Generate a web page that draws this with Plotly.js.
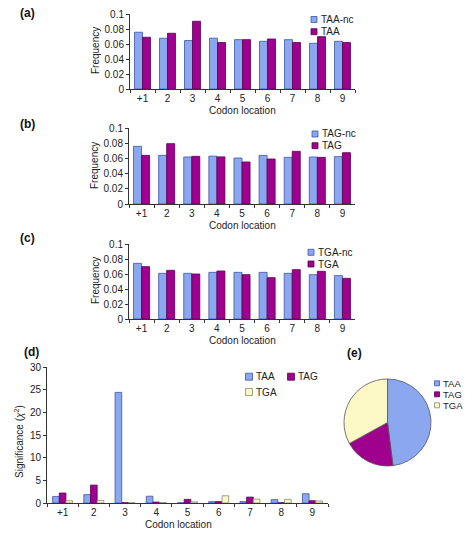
<!DOCTYPE html>
<html>
<head>
<meta charset="utf-8">
<script src="https://cdn.plot.ly/plotly-3.0.1.min.js"></script>
<style>
body{margin:0;background:#fff}
#chart{width:474px;height:540px}
</style>
</head>
<body>
<div id="chart"></div>
<script>
// codon positions after the stop codon
var locations = ['+1', '2', '3', '4', '5', '6', '7', '8', '9'];

// (a) TAA
var taaNc = [0.0757, 0.0677, 0.0646, 0.0678, 0.0658, 0.0636, 0.0658, 0.0610, 0.0636];
var taa   = [0.0690, 0.0743, 0.0903, 0.0620, 0.0658, 0.0667, 0.0620, 0.0698, 0.0620];

// (b) TAG
var tagNc = [0.0759, 0.0640, 0.0618, 0.0630, 0.0605, 0.0640, 0.0614, 0.0618, 0.0623];
var tag   = [0.0640, 0.0794, 0.0627, 0.0620, 0.0553, 0.0592, 0.0693, 0.0614, 0.0675];

// (c) TGA
var tgaNc = [0.0742, 0.0609, 0.0609, 0.0622, 0.0622, 0.0622, 0.0609, 0.0591, 0.0578];
var tga   = [0.0698, 0.0649, 0.0600, 0.0640, 0.0591, 0.0551, 0.0658, 0.0636, 0.0542];

// (d) chi-square significance
var chiTAA = [1.45, 1.85, 24.4, 1.50, 0.05, 0.30, 0.30, 0.75, 2.05];
var chiTAG = [2.20, 3.95, 0.05, 0.20, 0.80, 0.30, 1.30, 0.05, 0.50];
var chiTGA = [0.50, 0.55, 0.05, 0.10, 0.25, 1.60, 0.85, 0.80, 0.45];

// (e) share
var pieLabels = ['TAA', 'TAG', 'TGA'];
var pieValues = [48, 19, 33];

var W = 474, H = 540;
var blue = '#8ba7f0', blueLine = '#3c56a8';
var purple = '#a0008e', purpleLine = '#5a0050';
var yellow = '#fcf9c6', yellowLine = '#8a8a70';

function px(x) { return x / W; }
function py(y) { return 1 - y / H; }

function bar(name, vals, n, color, line) {
  return {
    type: 'bar', name: name, x: locations, y: vals,
    xaxis: 'x' + (n == 1 ? '' : n), yaxis: 'y' + (n == 1 ? '' : n),
    marker: {color: color, line: {color: line, width: 0.8}},
    showlegend: false
  };
}

var data = [
  bar('TAA-nc', taaNc, 1, blue, blueLine),
  bar('TAA', taa, 1, purple, purpleLine),
  bar('TAG-nc', tagNc, 2, blue, blueLine),
  bar('TAG', tag, 2, purple, purpleLine),
  bar('TGA-nc', tgaNc, 3, blue, blueLine),
  bar('TGA', tga, 3, purple, purpleLine),
  bar('TAA', chiTAA, 4, blue, blueLine),
  bar('TAG', chiTAG, 4, purple, purpleLine),
  bar('TGA', chiTGA, 4, yellow, yellowLine),
  {
    type: 'pie', labels: pieLabels, values: pieValues, sort: false,
    direction: 'clockwise', rotation: 0, textinfo: 'none',
    domain: {x: [px(344), px(431)], y: [py(466), py(379)]},
    marker: {colors: [blue, purple, yellow], line: {color: '#555', width: 0.8}},
    showlegend: false
  }
];

var fnt = {family: 'Liberation Sans, Arial, sans-serif', size: 10, color: '#222'};

function xax(domain, anchor) {
  return {
    type: 'category', domain: domain, anchor: anchor, range: [-0.5, 8.5],
    showline: true, linecolor: '#333', linewidth: 1,
    ticks: 'outside', tickson: 'boundaries', ticklen: 3, tickcolor: '#333',
    showgrid: false, zeroline: false, fixedrange: true
  };
}
function yax(domain, anchor, range, dtick) {
  return {
    domain: domain, anchor: anchor, range: range, dtick: dtick,
    showline: true, linecolor: '#333', linewidth: 1,
    ticks: 'outside', ticklen: 3, tickcolor: '#333',
    showgrid: false, zeroline: false, fixedrange: true
  };
}

var shapes = [];
var annotations = [];

function note(text, x, y, opts) {
  var a = {
    text: text, x: px(x), y: py(y), xref: 'paper', yref: 'paper',
    xanchor: 'center', yanchor: 'middle', showarrow: false, font: fnt
  };
  for (var k in opts) a[k] = opts[k];
  annotations.push(a);
}

// legend swatch + label
function key(label, x, y, size, fill, line, fs) {
  shapes.push({
    type: 'rect', xref: 'paper', yref: 'paper',
    x0: px(x - size / 2), x1: px(x + size / 2),
    y0: py(y + size / 2), y1: py(y - size / 2),
    fillcolor: fill, line: {color: line, width: 0.8}
  });
  note(label, x + size / 2 + 1.5, y, {xanchor: 'left', font: {family: fnt.family, size: fs || 10, color: '#222'}});
}

// panel letters
var bold = {family: fnt.family, size: 12, color: '#111'};
note('<b>(a)</b>', 18, 13, {xanchor: 'left', font: bold});
note('<b>(b)</b>', 18, 124, {xanchor: 'left', font: bold});
note('<b>(c)</b>', 18, 238, {xanchor: 'left', font: bold});
note('<b>(d)</b>', 22, 352, {xanchor: 'left', font: bold});
note('<b>(e)</b>', 345, 353, {xanchor: 'left', font: bold});

// axis titles
note('Frequency', 95, 51, {textangle: -90});
note('Frequency', 95, 166, {textangle: -90});
note('Frequency', 95, 281, {textangle: -90});
note('Codon location', 242, 110);
note('Codon location', 242, 225);
note('Codon location', 242, 340);
note('Significance (<i>χ</i><sup>2</sup>)', 19, 442, {textangle: -90});
note('Codon location', 178, 524);

// legends
key('TAA-nc', 314, 19.5, 6, blue, blueLine);
key('TAA', 314, 31.7, 6, purple, purpleLine);
key('TAG-nc', 315, 134, 6, blue, blueLine);
key('TAG', 315, 145.7, 6, purple, purpleLine);
key('TGA-nc', 311, 252.3, 6, blue, blueLine);
key('TGA', 311, 264, 6, purple, purpleLine);
key('TAA', 249, 376.7, 7, blue, blueLine);
key('TAG', 291, 376.7, 7, purple, purpleLine);
key('TGA', 249, 392, 7, yellow, yellowLine);
key('TAA', 437, 383.3, 5, blue, blueLine, 9.5);
key('TAG', 437, 394.3, 5, purple, purpleLine, 9.5);
key('TGA', 437, 405.3, 5, yellow, yellowLine, 9.5);

var layout = {
  width: W, height: H,
  margin: {l: 0, r: 0, t: 0, b: 0},
  paper_bgcolor: '#fff', plot_bgcolor: '#fff',
  font: fnt, showlegend: false,
  barmode: 'group', bargap: 0.36, bargroupgap: 0,
  xaxis: xax([px(130), px(355)], 'y'),
  yaxis: yax([py(89), py(14)], 'x', [0, 0.1], 0.02),
  xaxis2: xax([px(129), px(355)], 'y2'),
  yaxis2: yax([py(204), py(128)], 'x2', [0, 0.1], 0.02),
  xaxis3: xax([px(129), px(355)], 'y3'),
  yaxis3: yax([py(319), py(244)], 'x3', [0, 0.1], 0.02),
  xaxis4: xax([px(47), px(328)], 'y4'),
  yaxis4: yax([py(503), py(367)], 'x4', [0, 30], 5),
  shapes: shapes,
  annotations: annotations
};

Plotly.newPlot('chart', data, layout, {staticPlot: true});
</script>
</body>
</html>
